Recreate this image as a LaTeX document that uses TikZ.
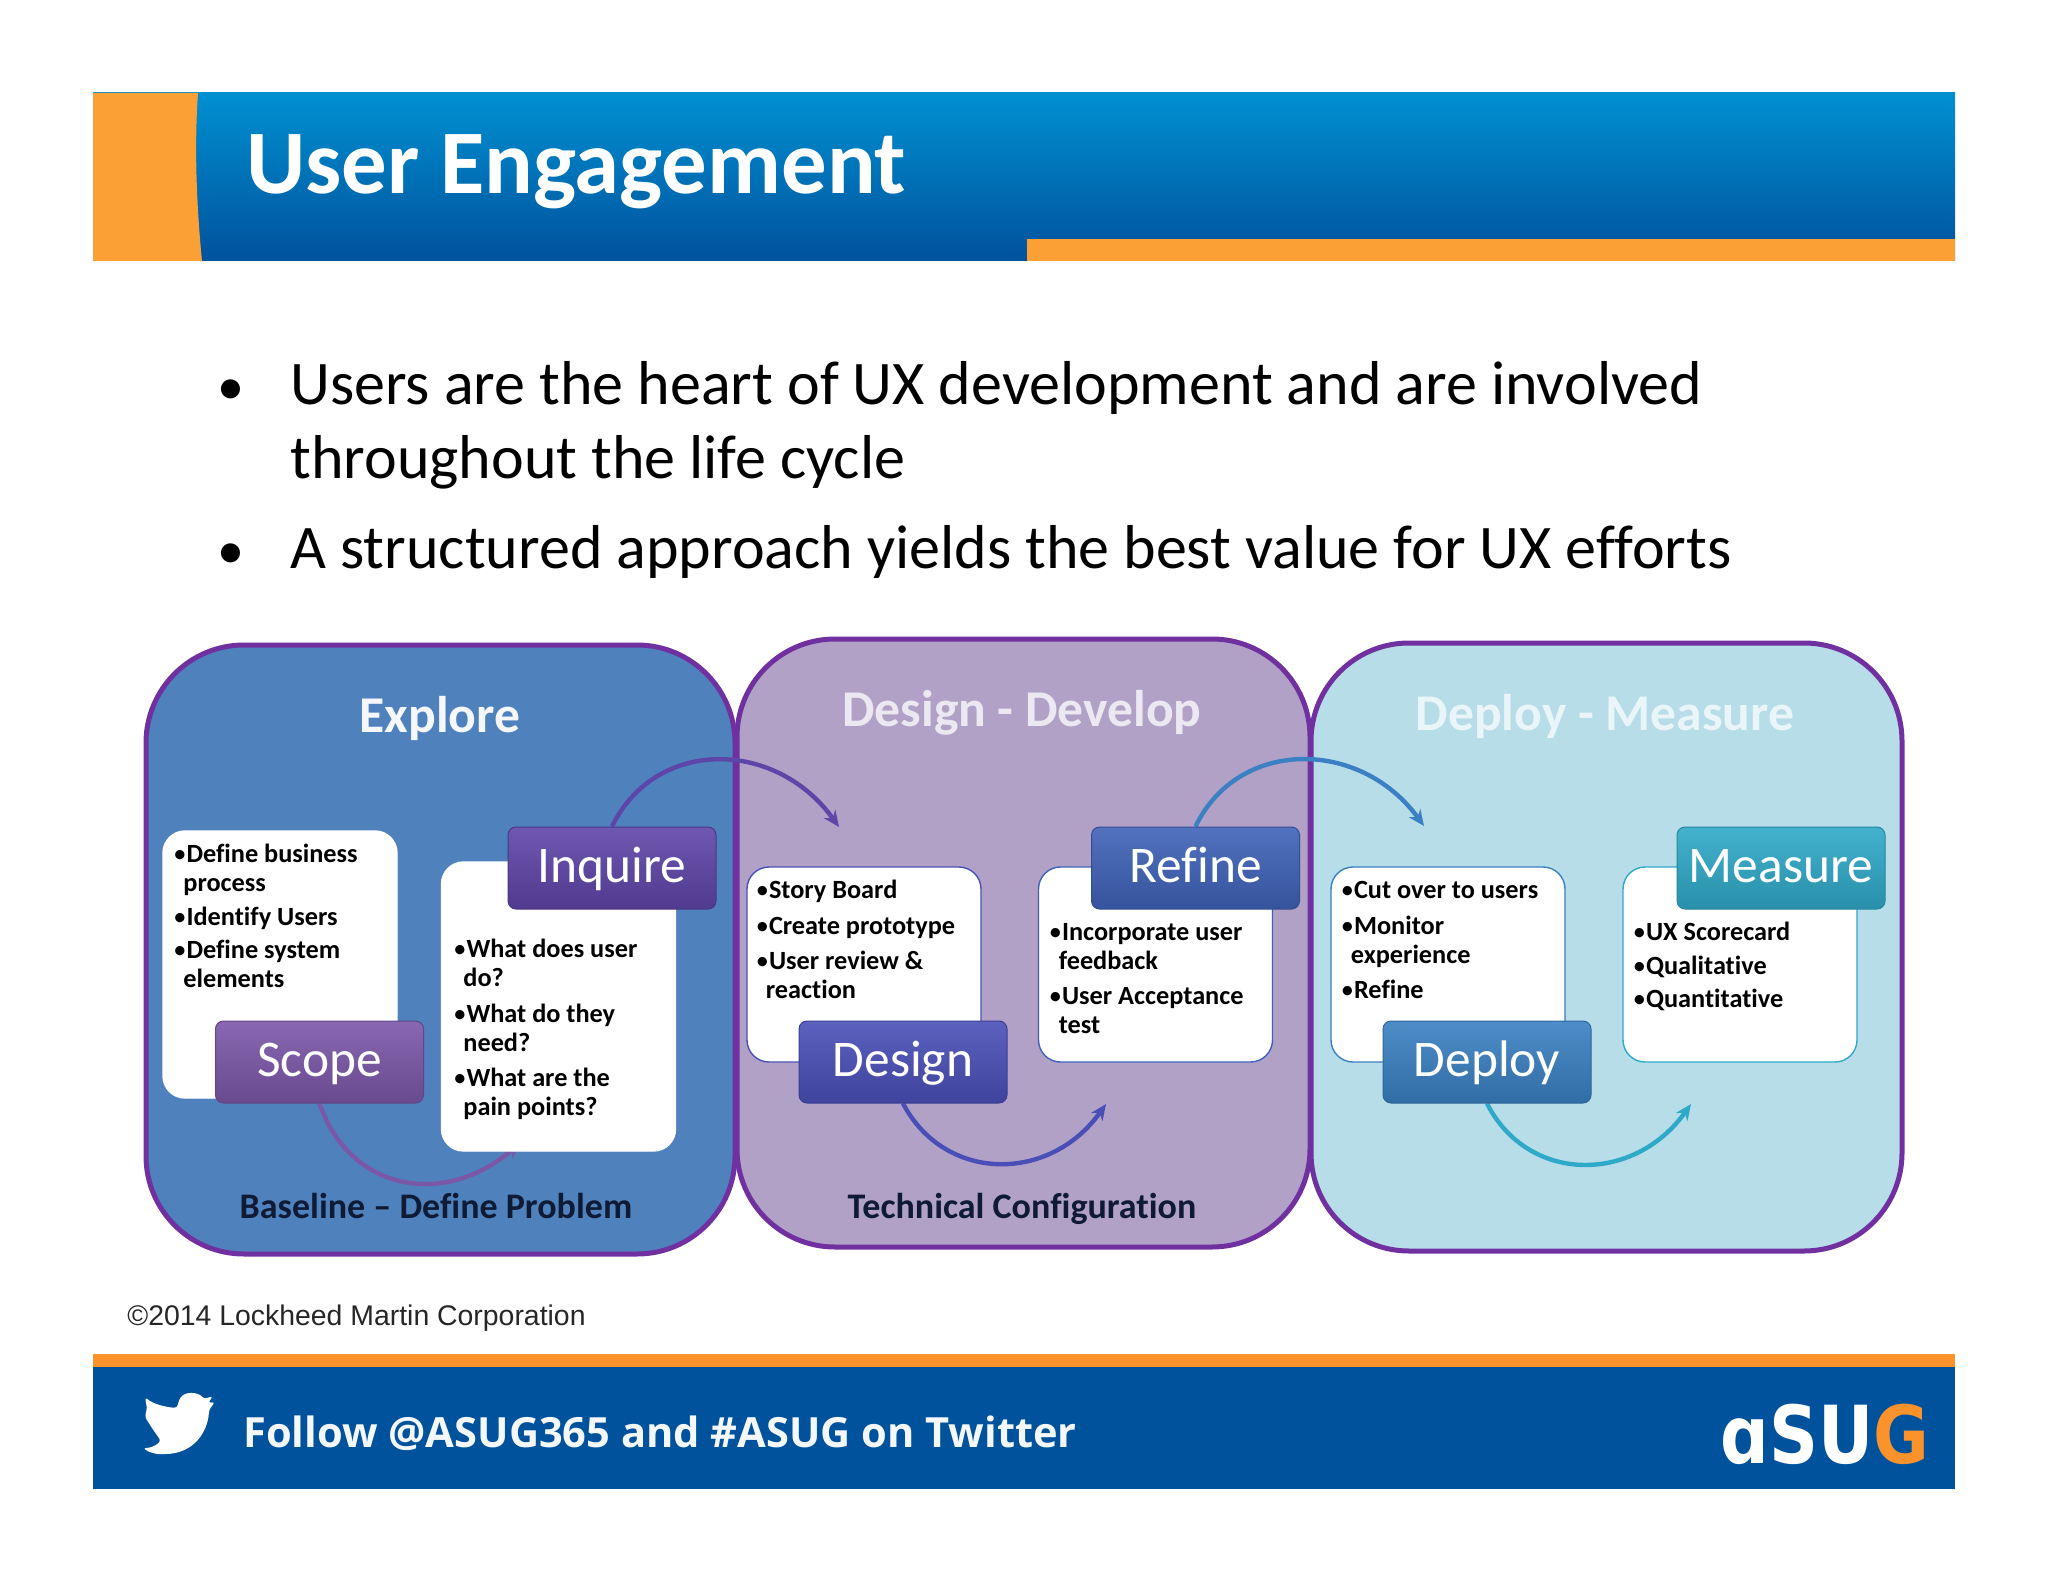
\documentclass[tikz,border=0pt]{standalone}
\usepackage{fontspec}
\setmainfont[Ligatures=NoCommon]{Carlito}
\newfontfamily\arialfont{Liberation Sans}
\newfontfamily\opensansfont{Open Sans}
\newfontfamily\dejavufont{DejaVu Sans}
\usetikzlibrary{arrows.meta}
\pgfdeclarelayer{panels}
\pgfdeclarelayer{flows}
\pgfsetlayers{panels,flows,main}
\definecolor{asugorange}{HTML}{FBA035}
\definecolor{footorange}{HTML}{FB922B}
\definecolor{asugblue}{HTML}{00529C}
\definecolor{headtop}{HTML}{0090D2}
\definecolor{panelline}{HTML}{7030A0}
\definecolor{explorefill}{HTML}{4F81BD}
\definecolor{designfill}{HTML}{B2A1C7}
\definecolor{deployfill}{HTML}{B7DDE8}
\definecolor{navyink}{HTML}{0F1B35}
\definecolor{stepscope}{HTML}{7B57A8}
\definecolor{stepinquire}{HTML}{5E45A8}
\definecolor{stepdesign}{HTML}{4A4FB8}
\definecolor{steprefine}{HTML}{3F62B8}
\definecolor{stepdeploy}{HTML}{3A80C2}
\definecolor{stepmeasure}{HTML}{2FA9C8}
\newcommand{\hang}{\hspace*{5pt}}
\newcommand{\itm}{{\mdseries •}}
\tikzset{
 panelbox/.style={draw=panelline,line width=2.5pt,rounded corners=49pt,inner sep=0pt},
 paneltitle/.style={anchor=base,inner sep=0pt,font=\fontsize{25.8}{28}\selectfont\bfseries},
 panelfoot/.style={anchor=base,inner sep=0pt,text=navyink,font=\fontsize{18}{20}\selectfont\bfseries},
 itembox/.style={fill=white,line width=0.7pt,rounded corners=11pt,minimum width=117pt,inner sep=0pt},
 itemtext/.style={anchor=north west,inner sep=0pt,align=left,font=\fontsize{13.15}{14.5}\selectfont\bfseries},
 stepbox/.style={draw=#1!80!black,line width=0.5pt,rounded corners=4pt,minimum width=104pt,minimum height=41pt,
   inner sep=0pt,text=white,text height=18pt,text depth=4pt,top color=#1!90!white,bottom color=#1!85!black,
   font=\fontsize{25.7}{28}\selectfont},
 flowline/.style={line width=2.2pt,-{Stealth[length=8pt,width=7pt]}},
 bigtext/.style={anchor=base west,inner sep=0pt,align=left,font=\fontsize{31}{37}\selectfont},
 bigdot/.style={anchor=base west,inner sep=0pt,font=\fontsize{27}{37}\selectfont}
}
\begin{document}
\begin{tikzpicture}[x=0.5pt,y=-0.5pt]
 \useasboundingbox (0,0) rectangle (2048,1582);
 \shade[top color=headtop,bottom color=asugblue] (93,93) rectangle (1955,261);
 \fill[asugorange] (93,93)--(198,93).. controls (194,150) and (197,210) ..(202,261)--(93,261)--cycle;
 \fill[asugorange] (1027,239) rectangle (1955,261);
 \node[anchor=base west,inner sep=0pt,text=white,font=\fontsize{45.4}{50}\selectfont\bfseries] (title) at (246,194) {User Engagement};
 \node[bigdot] (bulletone) at (217,405) {•};
 \node[bigtext] (pointone) at (290,479) {Users are the heart of UX development and are involved\\throughout the life cycle};
 \node[bigdot] (bullettwo) at (217,568) {•};
 \node[bigtext] (pointtwo) at (290,568) {A structured approach yields the best value for UX efforts};
 \begin{pgfonlayer}{panels}
 \node[panelbox,fill=explorefill,minimum width=294.5pt,minimum height=304.5pt] (explore) at (440.5,949.5) {};
 \node[panelbox,fill=designfill,minimum width=286.5pt,minimum height=304pt] (design) at (1023.5,943) {};
 \node[panelbox,fill=deployfill,minimum width=295.5pt,minimum height=304pt] (deploy) at (1606.5,947) {};
 \end{pgfonlayer}
 \node[paneltitle,text=white!94!explorefill] (exploretitle) at (440,732) {Explore};
 \node[paneltitle,text=white!75!designfill] (designtitle) at (1022,726) {Design - Develop};
 \node[paneltitle,text=white!70!deployfill] (deploytitle) at (1605,730) {Deploy - Measure};
 \node[panelfoot] (explorefoot) at (436,1218) {Baseline – Define Problem};
 \node[panelfoot] (designfoot) at (1022,1218) {Technical Configuration};
 \node[itembox,draw=white,minimum height=133.5pt] (scopebox) at (280,964.5) {};
 \node[itembox,draw=white,minimum height=144.5pt] (inquirebox) at (558.5,1006.5) {};
 \node[itembox,draw=stepdesign,minimum height=97.5pt] (storybox) at (864,964.5) {};
 \node[itembox,draw=steprefine,minimum height=97.5pt] (refinebox) at (1155.5,964.5) {};
 \node[itembox,draw=stepdeploy,minimum height=97.5pt] (cutbox) at (1448,964.5) {};
 \node[itembox,draw=stepmeasure,minimum height=97.5pt] (measurebox) at (1740,964.5) {};
 \node[itemtext] (scopetext) at (173,844) {\itm Define business\\\hang process\\[2.2pt]\itm Identify Users\\[2.2pt]\itm Define system\\\hang elements};
 \node[itemtext] (inquiretext) at (453,939) {\itm What does user\\\hang do?\\[3.25pt]\itm What do they\\\hang need?\\[3.25pt]\itm What are the\\\hang pain points?};
 \node[itemtext] (storytext) at (755.5,880) {\itm Story Board\\[3.25pt]\itm Create prototype\\[3.25pt]\itm User review \&\\\hang reaction};
 \node[itemtext] (refinetext) at (1048.5,923) {\itm Incorporate user\\\hang feedback\\[3.25pt]\itm User Acceptance\\\hang test};
 \node[itemtext] (cuttext) at (1340.5,881) {\itm Cut over to users\\[3.25pt]\itm Monitor\\\hang experience\\[3.25pt]\itm Refine};
 \node[itemtext] (measuretext) at (1632.5,922) {\itm UX Scorecard\\[2.25pt]\itm Qualitative\\[2.25pt]\itm Quantitative};
 \node[stepbox=stepscope] (scope) at (319.5,1062) {Scope};
 \node[stepbox=stepinquire] (inquire) at (612,868) {Inquire};
 \node[stepbox=stepdesign] (designstep) at (903,1062) {Design};
 \node[stepbox=steprefine] (refine) at (1195.5,868) {Refine};
 \node[stepbox=stepdeploy] (deploystep) at (1487,1062) {Deploy};
 \node[stepbox=stepmeasure] (measure) at (1781,868) {Measure};
 \coordinate (scopetip) at (520,1143);
 \coordinate (inquiretip) at (839,827);
 \coordinate (designtip) at (1106,1104);
 \coordinate (refinetip) at (1424,826);
 \coordinate (deploytip) at (1691,1104);
 \begin{pgfonlayer}{flows}
 \draw[flowline,stepscope] (scope.south) .. controls (350,1192) and (445,1208) .. (scopetip);
 \draw[flowline,stepinquire] (inquire.north) .. controls (655,738) and (775,738) .. (inquiretip);
 \draw[flowline,stepdesign] (designstep.south) .. controls (945,1183) and (1050,1183) .. (designtip);
 \draw[flowline,stepdeploy] (refine.north) .. controls (1238,738) and (1360,738) .. (refinetip);
 \draw[flowline,stepmeasure] (deploystep.south) .. controls (1528,1184) and (1634,1184) .. (deploytip);
 \end{pgfonlayer}
 \node[anchor=base west,inner sep=0pt,text=black!85,font=\arialfont\fontsize{14.2}{16}\selectfont] (copyright) at (127,1325) {©2014 Lockheed Martin Corporation};
 \fill[footorange] (93,1354) rectangle (1955,1367);
 \fill[asugblue] (93,1367) rectangle (1955,1489);
 \fill[white,rounded corners=1.5pt] (213,1396)--(204,1399).. controls (198,1392) and (185,1391) ..(179,1400)--(177,1408).. controls (165,1407) and (153,1404) ..(145,1397)--(147,1408)--(145,1417)--(152,1428)--(161,1441).. controls (155,1446) and (150,1448) ..(143,1448).. controls (150,1453) and (157,1454) ..(162,1454).. controls (195,1454) and (208,1430) ..(209,1410)--(215,1402)--(208,1403)--cycle;
 \node[anchor=west,inner sep=0pt,text=white!96!asugblue,font=\opensansfont\bfseries\fontsize{20.8}{24}\selectfont] (followtext) at (243,1433) {Follow @ASUG365 and \#ASUG on Twitter};
 \node[anchor=base west,inner sep=0pt,xscale=0.85,text=white,font=\dejavufont\bfseries\fontsize{40}{44}\selectfont] (asuglogo) at (1720,1463) {ɑSU\textcolor{footorange}{G}};
\end{tikzpicture}
\end{document}
